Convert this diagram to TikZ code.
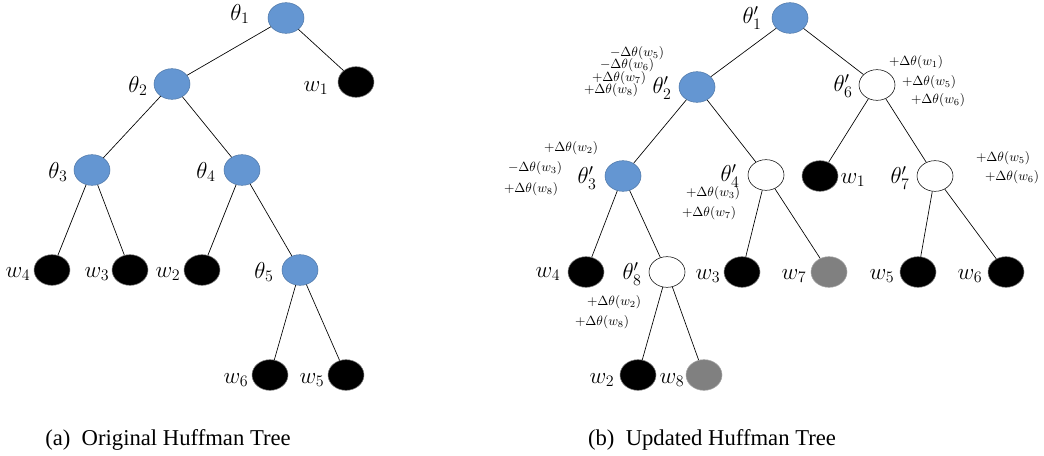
\documentclass[tikz,border=0pt]{standalone}
\usepackage{fontspec}
\setmainfont{Liberation Serif}
\usetikzlibrary{shapes.geometric}
\definecolor{nblue}{RGB}{100,150,210}
\begin{document}
\begin{tikzpicture}[x=0.75pt,y=-0.75pt,
  base/.style={ellipse,minimum width=27pt,minimum height=23pt,inner sep=0pt},
  bu/.style={base,draw=nblue!80!black,fill=nblue},
  bl/.style={base,draw=gray,fill=black},
  gr/.style={base,draw=gray!70,fill=gray},
  wh/.style={base,draw=black,fill=white},
  lb/.style={font=\fontsize{17}{17}\selectfont},
  an/.style={font=\fontsize{10}{10}\selectfont},
  edge/.style={draw,line width=0.5pt}]
\useasboundingbox (0,0) rectangle (1044,456);
% left tree
\node[bu] (a1) at (286,18) {};
\node[bl] (aw1) at (356,82) {};
\node[bu] (a2) at (172,84) {};
\node[bu] (a3) at (92,170) {};
\node[bu] (a4) at (242,170) {};
\node[bl] (aw4) at (52,270) {};
\node[bl] (aw3) at (130,270) {};
\node[bl] (aw2) at (202,270) {};
\node[bu] (a5) at (300,270) {};
\node[bl] (aw6) at (270,375) {};
\node[bl] (aw5) at (346,375) {};
\foreach \i/\j in {a1/a2,a1/aw1,a2/a3,a2/a4,a3/aw4,a3/aw3,a4/aw2,a4/a5,a5/aw6,a5/aw5}
  \draw[edge] (\i) -- (\j);
\node[lb] (la1) at (240,14) {$\theta_1$};
\node[lb] (law1) at (316,88) {$w_1$};
\node[lb] (la2) at (138,86) {$\theta_2$};
\node[lb] (la3) at (58,172) {$\theta_3$};
\node[lb] (la4) at (206,172) {$\theta_4$};
\node[lb] (law4) at (18,274) {$w_4$};
\node[lb] (law3) at (97,274) {$w_3$};
\node[lb] (law2) at (168,274) {$w_2$};
\node[lb] (la5) at (264,272) {$\theta_5$};
\node[lb] (law6) at (236,380) {$w_6$};
\node[lb] (law5) at (312,380) {$w_5$};
% right tree
\node[bu] (b1) at (790,18) {};
\node[bu] (b2) at (697,87) {};
\node[wh] (b6) at (877,85) {};
\node[bu] (b3) at (623,176) {};
\node[wh] (b4) at (766,175) {};
\node[bl] (bw1) at (820,176) {};
\node[wh] (b7) at (935,176) {};
\node[bl] (bw4) at (586,272) {};
\node[wh] (b8) at (667,272) {};
\node[bl] (bw3) at (742,272) {};
\node[gr] (bw7) at (829,272) {};
\node[bl] (bw5) at (918,272) {};
\node[bl] (bw6) at (1006,272) {};
\node[bl] (bw2) at (638,375) {};
\node[gr] (bw8) at (704,375) {};
\foreach \i/\j in {b1/b2,b1/b6,b2/b3,b2/b4,b6/bw1,b6/b7,b3/bw4,b3/b8,b4/bw3,b4/bw7,b7/bw5,b7/bw6,b8/bw2,b8/bw8}
  \draw[edge] (\i) -- (\j);
\node[lb] (lb1) at (752,18) {$\theta_1'$};
\node[lb] (lb2) at (662,88) {$\theta_2'$};
\node[lb] (lb6) at (843,86) {$\theta_6'$};
\node[lb] (lb3) at (587,178) {$\theta_3'$};
\node[lb] (lb4) at (730,176) {$\theta_4'$};
\node[lb] (lbw1) at (853,180) {$w_1$};
\node[lb] (lb7) at (900,178) {$\theta_7'$};
\node[lb] (lbw4) at (548,274) {$w_4$};
\node[lb] (lb8) at (632,274) {$\theta_8'$};
\node[lb] (lbw3) at (708,276) {$w_3$};
\node[lb] (lbw7) at (794,276) {$w_7$};
\node[lb] (lbw5) at (882,276) {$w_5$};
\node[lb] (lbw6) at (970,276) {$w_6$};
\node[lb] (lbw2) at (602,380) {$w_2$};
\node[lb] (lbw8) at (672,380) {$w_8$};
% annotations
\node[an] (n1) at (637,53) {$-\Delta\theta(w_5)$};
\node[an] (n2) at (627,65) {$-\Delta\theta(w_6)$};
\node[an] (n3) at (619,78) {$+\Delta\theta(w_7)$};
\node[an] (n4) at (611,90) {$+\Delta\theta(w_8)$};
\node[an] (n5) at (916,62) {$+\Delta\theta(w_1)$};
\node[an] (n6) at (929,82) {$+\Delta\theta(w_5)$};
\node[an] (n7) at (938,100) {$+\Delta\theta(w_6)$};
\node[an] (n8) at (571,148) {$+\Delta\theta(w_2)$};
\node[an] (n9) at (535,168) {$-\Delta\theta(w_3)$};
\node[an] (n10) at (531,189) {$+\Delta\theta(w_8)$};
\node[an] (n11) at (713,193) {$+\Delta\theta(w_3)$};
\node[an] (n12) at (709,213) {$+\Delta\theta(w_7)$};
\node[an] (n13) at (1003,158) {$+\Delta\theta(w_5)$};
\node[an] (n14) at (1012,177) {$+\Delta\theta(w_6)$};
\node[an] (n15) at (614,302) {$+\Delta\theta(w_2)$};
\node[an] (n16) at (602,322) {$+\Delta\theta(w_8)$};
% captions
\node[font=\fontsize{17}{17}\selectfont] (ca) at (168,440) {(a)\ \ Original Huffman Tree};
\node[font=\fontsize{17}{17}\selectfont] (cb) at (712,440) {(b)\ \ Updated Huffman Tree};
\end{tikzpicture}
\end{document}
